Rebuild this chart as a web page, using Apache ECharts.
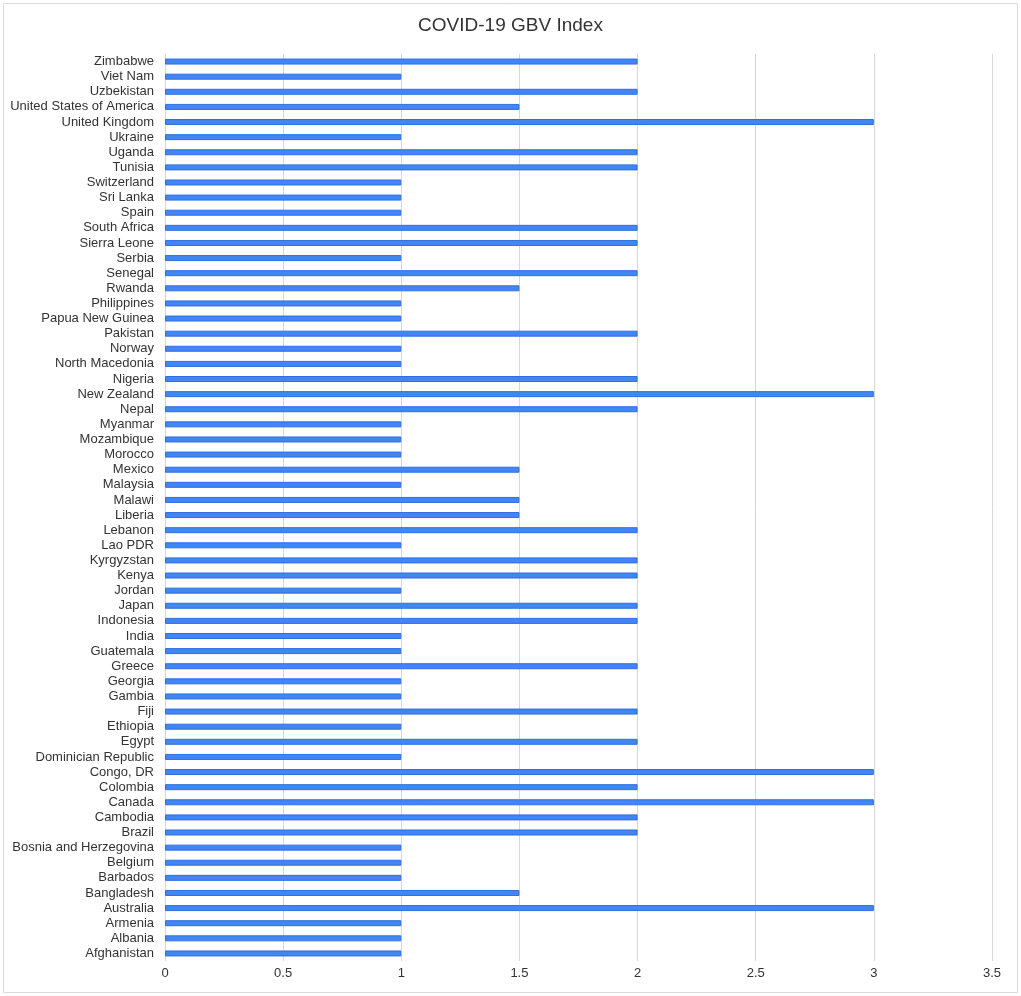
<!DOCTYPE html>
<html>
<head>
<meta charset="utf-8">
<title>COVID-19 GBV Index</title>
<script src="https://cdn.jsdelivr.net/npm/echarts@6/dist/echarts.min.js"></script>
<style>
html, body { margin: 0; padding: 0; background: #fff; }
#main { width: 1021px; height: 996px; }
</style>
</head>
<body>
<div id="main"></div>
<script>
// bottom-up order (category axis draws first item at the bottom)
var countries = ['Afghanistan', 'Albania', 'Armenia', 'Australia', 'Bangladesh', 'Barbados', 'Belgium',
    'Bosnia and Herzegovina', 'Brazil', 'Cambodia', 'Canada', 'Colombia', 'Congo, DR', 'Dominician Republic',
    'Egypt', 'Ethiopia', 'Fiji', 'Gambia', 'Georgia', 'Greece', 'Guatemala', 'India', 'Indonesia', 'Japan',
    'Jordan', 'Kenya', 'Kyrgyzstan', 'Lao PDR', 'Lebanon', 'Liberia', 'Malawi', 'Malaysia', 'Mexico',
    'Morocco', 'Mozambique', 'Myanmar', 'Nepal', 'New Zealand', 'Nigeria', 'North Macedonia', 'Norway',
    'Pakistan', 'Papua New Guinea', 'Philippines', 'Rwanda', 'Senegal', 'Serbia', 'Sierra Leone',
    'South Africa', 'Spain', 'Sri Lanka', 'Switzerland', 'Tunisia', 'Uganda', 'Ukraine', 'United Kingdom',
    'United States of America', 'Uzbekistan', 'Viet Nam', 'Zimbabwe'];

var gbvIndex = [1, 1, 1, 3, 1.5, 1, 1,
    1, 2, 2, 3, 2, 3, 1,
    2, 1, 2, 1, 1, 2, 1, 1, 2, 2,
    1, 2, 2, 1, 2, 1.5, 1.5, 1, 1.5,
    1, 1, 1, 2, 3, 2, 1, 1,
    2, 1, 1, 1.5, 2, 1, 2,
    2, 1, 1, 1, 2, 2, 1, 3,
    1.5, 2, 1, 2];

var xTicks = [0, 0.5, 1, 1.5, 2, 2.5, 3, 3.5];

var myChart = echarts.init(document.getElementById('main'));

var option = {
    backgroundColor: '#fff',
    animation: false,
    title: {
        text: 'COVID-19 GBV Index',
        left: 'center',
        top: 11,
        textStyle: {
            fontFamily: 'Liberation Sans, Arial, sans-serif',
            fontWeight: 'normal',
            fontSize: 19,
            color: '#333'
        }
    },
    graphic: [{
        type: 'rect',
        shape: { x: 3.5, y: 3.5, width: 1014, height: 989 },
        style: { fill: 'none', stroke: '#d9d9d9', lineWidth: 1 },
        silent: true
    }],
    grid: {
        left: 165,
        right: 29,
        top: 54,
        bottom: 35
    },
    xAxis: {
        type: 'value',
        min: xTicks[0],
        max: xTicks[xTicks.length - 1],
        interval: 0.5,
        axisLine: { show: false },
        axisTick: { show: false },
        splitLine: { show: true, lineStyle: { color: '#d6d6d6', width: 1 } },
        axisLabel: {
            margin: 6,
            fontFamily: 'Liberation Sans, Arial, sans-serif',
            fontSize: 13,
            color: '#333'
        }
    },
    yAxis: {
        type: 'category',
        data: countries,
        axisLine: { show: false },
        axisTick: { show: false },
        axisLabel: {
            interval: 0,
            margin: 11,
            fontFamily: 'Liberation Sans, Arial, sans-serif',
            fontSize: 13,
            color: '#333'
        }
    },
    series: [{
        name: 'COVID-19 GBV Index',
        type: 'bar',
        data: gbvIndex,
        barWidth: 6,
        itemStyle: {
            color: '#4285f4',
            borderColor: '#2f6fe0',
            borderWidth: 1
        }
    }]
};

myChart.setOption(option);
window.addEventListener('resize', function () {
    myChart.resize();
});
</script>
</body>
</html>
